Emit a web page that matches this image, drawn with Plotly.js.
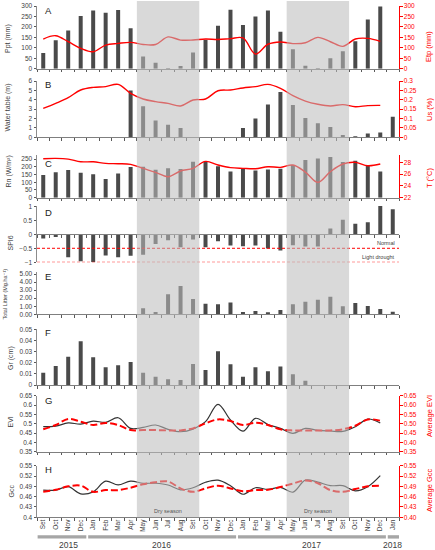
<!DOCTYPE html>
<html><head><meta charset="utf-8">
<script src="https://cdn.plot.ly/plotly-3.0.1.min.js"></script>
<style>html,body{margin:0;padding:0;background:#fff}#chart{width:435px;height:550px}</style>
</head><body><div id="chart"></div>
<script>
// ---------- DATA ----------
const months = ['Set','Oct','Nov','Dec','Jan','Feb','Mar','Apr','May','Jun','Jul','Aug','Set','Oct','Nov','Dec','Jan','Feb','Mar','Apr','May','Jun','Jul','Aug','Set','Oct','Nov','Dec','Jan'];
const years = ['2015','2016','2017','2018'];
const yearFirstMonth = [0,4,16,28];
const yearLastMonth = [3,15,27,28];
const drySeasonStart = [8,20];
const drySeasonEnd = [12,24];
const drySeasonLabel = 'Dry season';

const ppt = [75,136,183,252,278,268,281,193,58,29,3,13,78,139,206,282,209,250,279,177,93,14,3,50,83,131,236,298,null];
const etp = [142,158,129,97,81,113,121,126,116,116,152,137,137,142,140,144,147,70,117,128,120,124,150,129,107,142,145,131,null];
const waterTable = [null,null,null,null,null,null,null,5.0,3.3,1.78,1.35,1.0,null,null,null,null,1.0,2.0,3.5,4.83,3.45,2.06,1.5,1.1,0.25,0.1,0.4,0.5,2.2];
const us = [0.154,0.181,0.211,0.252,0.266,0.27,0.282,0.234,0.204,0.19,0.181,0.167,0.199,0.204,0.248,0.252,0.263,0.27,0.282,0.261,0.222,0.193,0.176,0.167,0.174,0.163,0.169,0.170,null];
const rn = [147,164,179,162,151,121,157,198,200,181,190,185,233,233,203,170,190,175,183,187,211,244,254,263,231,239,207,170,null];
const temp = [28.62,28.68,28.56,28.1,28.1,27.83,27.77,27.66,26.98,26.3,25.57,26.53,26.98,28.17,27.55,27.1,26.98,26.92,27.26,27.15,27.55,26.35,24.6,26.41,27.72,28.0,27.43,27.72,null];
const spi6 = [-0.15,-0.1,-0.82,-0.96,-1.0,-0.76,-0.82,-0.77,-0.73,-0.35,-0.21,-0.46,-0.19,-0.46,-0.25,-0.4,-0.43,-0.4,-0.51,-0.58,-0.39,-0.44,-0.44,0.21,0.52,0.38,0.43,1.01,0.89];
const spiThresholds = [-0.5,-1];
const spiThresholdLabels = ['Normal','Light drought'];
const litter = [null,null,null,null,null,null,null,null,0.74,0.29,2.48,3.51,1.9,1.32,1.24,1.45,0.29,0.41,0.25,0.54,1.24,1.57,1.82,2.19,0.99,1.4,1.03,0.66,0.33];
const gr = [0.0111,0.0171,0.0254,0.0392,0.0249,0.0159,0.0177,0.0207,0.0111,0.0075,0.0051,0.0045,0.0189,0.0135,0.0302,0.0186,0.0075,0.0159,0.0123,0.0165,0.0096,0.0039,null,null,null,null,null,null,null];
const evi = [0.484,0.487,0.504,0.498,0.514,0.507,0.532,0.475,0.48,0.493,0.47,0.457,0.471,0.511,0.604,0.52,0.46,0.529,0.496,0.475,0.448,0.475,0.464,0.461,0.459,0.484,0.525,0.504,null];
const eviAvg = [0.47,0.493,0.525,0.511,0.493,0.504,0.493,0.466,0.466,0.466,0.464,0.464,0.475,0.502,0.523,0.514,0.493,0.505,0.493,0.47,0.464,0.464,0.464,0.464,0.47,0.489,0.523,0.516,null];
const gcc = [0.479,0.479,0.489,0.468,0.474,0.505,0.494,0.505,0.499,0.499,0.494,0.48,0.486,0.502,0.508,0.492,0.467,0.486,0.481,0.487,0.473,0.508,0.502,0.492,0.492,0.477,0.489,0.521,null];
const gccAvg = [0.474,0.48,0.49,0.492,0.474,0.479,0.479,0.486,0.496,0.502,0.504,0.484,0.474,0.484,0.492,0.484,0.476,0.479,0.48,0.488,0.498,0.507,0.499,0.479,0.474,0.482,0.49,0.492,null];

// ---------- LAYOUT HELPERS ----------
const W = 435, H = 550, ML = 37, MR = 36;
const PW = W - ML - MR;
const fy = px => 1 - px / H;
const fx = px => (px - ML) / PW;
const xIdx = months.map((m, i) => i);
const bounds = []; for (let i = 0; i <= months.length; i++) bounds.push(i - 0.5);
const xr = [-0.5, months.length - 0.5];

const FONT = 'Liberation Sans, Arial, DejaVu Sans, sans-serif';
const DARK = '#404040', BAR = '#4a4a4a', RED = '#ff0000';

// panel pixel extents [top, bottom]
const P = {
  A:[6,68.7], B:[81,137.3], C:[155.3,197.7], D:[205.7,262.3],
  E:[272,314.3], F:[329.3,385], G:[395.7,451.7], H:[465.7,517.3]
};
const dom = k => [fy(P[k][1]), fy(P[k][0])];

const layout = {
  width: W, height: H,
  margin: {l: ML, r: MR, t: 0, b: 0},
  paper_bgcolor: '#fff', plot_bgcolor: 'rgba(0,0,0,0)',
  showlegend: false,
  font: {family: FONT, size: 7, color: DARK},
  shapes: [], annotations: []
};

function xAxis(k, extra) {
  return Object.assign({
    domain: [0, 1], range: xr, anchor: 'y' + k, fixedrange: true,
    tickmode: 'array', tickvals: bounds, showticklabels: false,
    ticks: 'outside', ticklen: 2.5, tickwidth: 1, tickcolor: '#595959',
    showline: true, linecolor: '#7f7f7f', linewidth: 1,
    showgrid: false, zeroline: false
  }, extra || {});
}
function yAxis(k, d, extra) {
  return Object.assign({
    domain: d, anchor: 'x' + k, fixedrange: true,
    ticks: 'outside', ticklen: 2.5, tickwidth: 1, tickcolor: '#595959',
    showline: true, linecolor: '#8c8c8c', linewidth: 1,
    showgrid: false, zeroline: false,
    tickfont: {family: FONT, size: 6.5, color: DARK}
  }, extra || {});
}
function yRight(over, anchor, extra) {
  return Object.assign({
    overlaying: over, anchor: anchor, side: 'right', fixedrange: true,
    ticks: 'outside', ticklen: 2.5, tickwidth: 1, tickcolor: RED,
    showline: true, linecolor: RED, linewidth: 1,
    showgrid: false, zeroline: false,
    tickfont: {family: FONT, size: 6.5, color: RED}
  }, extra || {});
}

// x axes
const keys = ['A','B','C','D','E','F','G','H'];
keys.forEach((k, i) => {
  const n = i + 1;
  layout['xaxis' + (n === 1 ? '' : n)] = xAxis(n === 1 ? '' : n);
});
layout.xaxis.anchor = 'y';
// D: x axis at zero
{
  const d = dom('D'), r = [-1, 1.02];
  layout.xaxis4.anchor = 'free';
  layout.xaxis4.position = d[0] + (0 - r[0]) / (r[1] - r[0]) * (d[1] - d[0]);
}
// month labels on overlay axis below H
layout.xaxis9 = {
  overlaying: 'x8', anchor: 'y8', side: 'bottom', range: xr, fixedrange: true,
  tickmode: 'array', tickvals: xIdx, ticktext: months, tickangle: -90,
  ticks: '', showline: false, showgrid: false, zeroline: false,
  tickfont: {family: FONT, size: 6.5, color: DARK}
};

// y axes
layout.yaxis  = yAxis('', dom('A'), {range: [0, 300], dtick: 50});
layout.yaxis2 = yAxis(2, dom('B'), {range: [0, 6], dtick: 1});
layout.yaxis3 = yAxis(3, dom('C'), {range: [0, 274], dtick: 50});
layout.yaxis4 = yAxis(4, dom('D'), {range: [-1, 1.02], tickvals: [-1,-0.5,0,0.5,1]});
layout.yaxis5 = yAxis(5, dom('E'), {range: [0, 5.25], dtick: 1, tickformat: '.2f'});
layout.yaxis6 = yAxis(6, dom('F'), {range: [0, 0.05], dtick: 0.01});
layout.yaxis7 = yAxis(7, dom('G'), {range: [0.35, 0.65], dtick: 0.05, tick0: 0.35});
layout.yaxis8 = yAxis(8, dom('H'), {range: [0.4, 0.55], dtick: 0.03, tick0: 0.4});
layout.yaxis.anchor = 'x';
// right axes
layout.yaxis9  = yRight('y', 'x', {range: [0, 300], dtick: 50});
layout.yaxis10 = yRight('y2', 'x2', {range: [0, 0.3], dtick: 0.05});
layout.yaxis11 = yRight('y3', 'x3', {range: [22, 29.2], tickvals: [22,24,26,28]});
layout.yaxis12 = yRight('y7', 'x7', {range: [0.35, 0.65], dtick: 0.05, tick0: 0.35, tickformat: '.2f'});
layout.yaxis13 = yRight('y8', 'x8', {range: [0.4, 0.55], dtick: 0.03, tick0: 0.4, tickformat: '.2f'});

// ---------- TRACES ----------
const traces = [];
function bars(y, xa, ya) {
  traces.push({type: 'bar', x: xIdx, y: y, xaxis: xa, yaxis: ya, width: 0.32,
    marker: {color: BAR, line: {width: 0}}, hoverinfo: 'skip'});
}
function line(y, xa, ya, color, width, dash) {
  traces.push({type: 'scatter', mode: 'lines', x: xIdx, y: y, xaxis: xa, yaxis: ya,
    line: {color: color, width: width, dash: dash || 'solid', shape: 'spline', smoothing: 1},
    connectgaps: false, hoverinfo: 'skip'});
}
bars(ppt, 'x', 'y');           line(etp, 'x', 'y9', RED, 1.4);
bars(waterTable, 'x2', 'y2');  line(us, 'x2', 'y10', RED, 1.4);
bars(rn, 'x3', 'y3');          line(temp, 'x3', 'y11', RED, 1.4);
bars(spi6, 'x4', 'y4');
bars(litter, 'x5', 'y5');
bars(gr, 'x6', 'y6');
line(evi, 'x7', 'y7', '#333333', 1.2);  line(eviAvg, 'x7', 'y12', RED, 2, '7px,3px');
line(gcc, 'x8', 'y8', '#333333', 1.2);  line(gccAvg, 'x8', 'y13', RED, 2, '7px,3px');
// invisible trace so the label axis is laid out
traces.push({type: 'scatter', mode: 'markers', x: xIdx, y: xIdx.map(() => null), xaxis: 'x9', yaxis: 'y8', hoverinfo: 'skip', marker: {opacity: 0}});

// ---------- SHAPES ----------
spiThresholds.forEach(t => layout.shapes.push({type: 'line', xref: 'x4', yref: 'y4',
  x0: xr[0], x1: xr[1], y0: t, y1: t, line: {color: RED, width: 1, dash: '3px,2px'}}));
drySeasonStart.forEach((s, i) => layout.shapes.push({type: 'rect', xref: 'x', yref: 'paper',
  x0: s - 0.5, x1: drySeasonEnd[i] + 0.5, y0: fy(P.H[1]), y1: fy(1),
  fillcolor: 'rgba(188,188,188,0.57)', line: {width: 0}, layer: 'above'}));
years.forEach((y, i) => layout.shapes.push({type: 'rect', xref: 'x8', yref: 'paper',
  x0: yearFirstMonth[i] - 0.5 + (i === 0 ? 0.05 : 0.1), x1: yearLastMonth[i] + 0.5 - (i === years.length - 1 ? -0.02 : 0.05),
  y0: fy(538.6), y1: fy(535.2), fillcolor: '#a6a6a6', line: {width: 0}}));

// ---------- ANNOTATIONS ----------
const ann = (o) => layout.annotations.push(Object.assign({showarrow: false, xref: 'paper', yref: 'paper'}, o));
const letterY = {A:10, B:84.5, C:164, D:212, E:276.7, F:332.5, G:400, H:469};
keys.forEach(k => ann({text: k, x: fx(43), y: fy(letterY[k]), xanchor: 'left', yanchor: 'middle',
  font: {family: FONT, size: 9.5, color: '#222'}}));
const leftTitles = [
  ['Ppt (mm)', 7.5, 38.5, 7], ['Water table (m)', 7.5, 108, 7], ['Rn (W/m\u00B2)', 8.5, 172, 7],
  ['SPI6', 9.5, 243, 7], ['Total Litter (Mg.ha\u207B\u00B9)', 4.5, 294, 5.5], ['Gr (cm)', 11, 358, 7],
  ['EVI', 10.5, 422, 7], ['Gcc', 10.5, 491, 7]
];
leftTitles.forEach(([t, x, y, s]) => ann({text: t, x: fx(x), y: fy(y), textangle: -90,
  xanchor: 'center', yanchor: 'middle', font: {family: FONT, size: s, color: DARK}}));
const rightTitles = [['Etp (mm)', 46], ['Us (%)', 109], ['T (°C)', 178], ['Average EVI', 416], ['Average Gcc', 490]];
rightTitles.forEach(([t, y]) => ann({text: t, x: fx(429), y: fy(y), textangle: -90,
  xanchor: 'center', yanchor: 'middle', font: {family: FONT, size: 7.5, color: RED}}));
spiThresholdLabels.forEach((t, i) => ann({text: t, xref: 'x4', yref: 'y4', x: xr[1] - 0.2, y: spiThresholds[i],
  xanchor: 'right', yanchor: 'bottom', yshift: 0.5, font: {family: FONT, size: 5.5, color: DARK}}));
drySeasonStart.forEach((s, i) => ann({text: drySeasonLabel, xref: 'x8', x: (s + drySeasonEnd[i]) / 2, y: fy(511),
  xanchor: 'center', yanchor: 'middle', font: {family: FONT, size: 5.5, color: '#555'}}));
years.forEach((y, i) => ann({text: y, xref: 'x8', x: Math.min((yearFirstMonth[i] + yearLastMonth[i]) / 2 + (i === 0 ? 0.5 : 0), 28),
  y: fy(545), xanchor: 'center', yanchor: 'middle', font: {family: FONT, size: 8.5, color: DARK}}));

Plotly.newPlot('chart', traces, layout, {staticPlot: true, displayModeBar: false});
</script>
</body></html>
